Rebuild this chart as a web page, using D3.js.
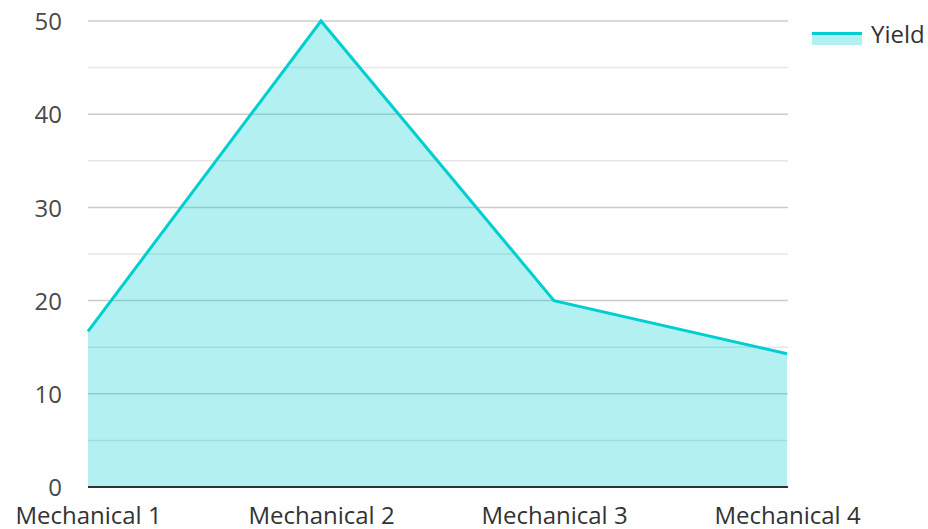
<!DOCTYPE html>
<html>
<head>
<meta charset="utf-8">
<script src="https://cdn.jsdelivr.net/npm/d3@7"></script>
<style>
  html, body { margin: 0; padding: 0; background: #fff; }
  svg { display: block; font-family: "Open Sans", "Noto Sans", sans-serif; }
</style>
</head>
<body>
<svg id="chart" width="928" height="529"></svg>
<script>
const categories = ["Mechanical 1", "Mechanical 2", "Mechanical 3", "Mechanical 4"];
const yieldValues = [16.7, 50, 20, 14.3];
const seriesName = "Yield";
const majorTicks = [0, 10, 20, 30, 40, 50];
const minorTicks = [5, 15, 25, 35, 45];

const svg = d3.select("#chart");
const plotLeft = 88, plotRight = 788, plotTop = 21, plotBottom = 487;
const lineColor = "#00ced1";
const fontSize = 24;

const x = d3.scalePoint().domain(categories).range([plotLeft, plotRight - 1]);
const y = d3.scaleLinear().domain([0, 50]).range([plotBottom, plotTop]);

// minor gridlines
svg.append("g").selectAll("line").data(minorTicks).join("line")
  .attr("x1", plotLeft).attr("x2", plotRight)
  .attr("y1", d => y(d)).attr("y2", d => y(d))
  .attr("stroke", "#e6e6e6").attr("stroke-width", 1.5);

// major gridlines
svg.append("g").selectAll("line").data(majorTicks.filter(d => d > 0)).join("line")
  .attr("x1", plotLeft).attr("x2", plotRight)
  .attr("y1", d => y(d)).attr("y2", d => y(d))
  .attr("stroke", "#cccccc").attr("stroke-width", 1.5);

const pts = categories.map((c, i) => ({ c, v: yieldValues[i] }));

// translucent area
svg.append("path").datum(pts)
  .attr("d", d3.area().x(d => x(d.c)).y0(y(0)).y1(d => y(d.v)))
  .attr("fill", lineColor).attr("fill-opacity", 0.3);

// line
svg.append("path").datum(pts)
  .attr("d", d3.line().x(d => x(d.c)).y(d => y(d.v)))
  .attr("fill", "none").attr("stroke", lineColor)
  .attr("stroke-width", 3).attr("stroke-linejoin", "miter");

// baseline
svg.append("line")
  .attr("x1", plotLeft).attr("x2", plotRight)
  .attr("y1", y(0)).attr("y2", y(0))
  .attr("stroke", "#333").attr("stroke-width", 2);

// y-axis labels
const yAxis = d3.axisLeft(y).tickValues(majorTicks).tickSize(0).tickPadding(0);
const gy = svg.append("g").attr("transform", `translate(${plotLeft - 26},0)`).call(yAxis);
gy.select(".domain").remove();
gy.selectAll("text")
  .attr("font-size", fontSize).attr("fill", "#4a4a4a")
  .attr("font-family", "'Open Sans', 'Noto Sans', sans-serif")
  .attr("dy", "0.36em");

// x-axis labels
const xAxis = d3.axisBottom(x).tickSize(0).tickPadding(0);
const gx = svg.append("g").attr("transform", `translate(0,${plotBottom + 37})`).call(xAxis);
gx.select(".domain").remove();
gx.selectAll("text")
  .attr("font-size", fontSize).attr("fill", "#333")
  .attr("font-family", "'Open Sans', 'Noto Sans', sans-serif")
  .attr("dy", "0em").attr("y", 0);

// legend
const lg = svg.append("g").attr("transform", "translate(812,32)");
lg.append("rect").attr("x", 0).attr("y", 0).attr("width", 50).attr("height", 13)
  .attr("fill", lineColor).attr("fill-opacity", 0.3);
lg.append("line").attr("x1", 0).attr("x2", 50).attr("y1", 1.5).attr("y2", 1.5)
  .attr("stroke", lineColor).attr("stroke-width", 3);
lg.append("text").attr("x", 59).attr("y", 2).attr("dy", "0.36em")
  .attr("font-size", fontSize).attr("fill", "#333").text(seriesName);
</script>
</body>
</html>
